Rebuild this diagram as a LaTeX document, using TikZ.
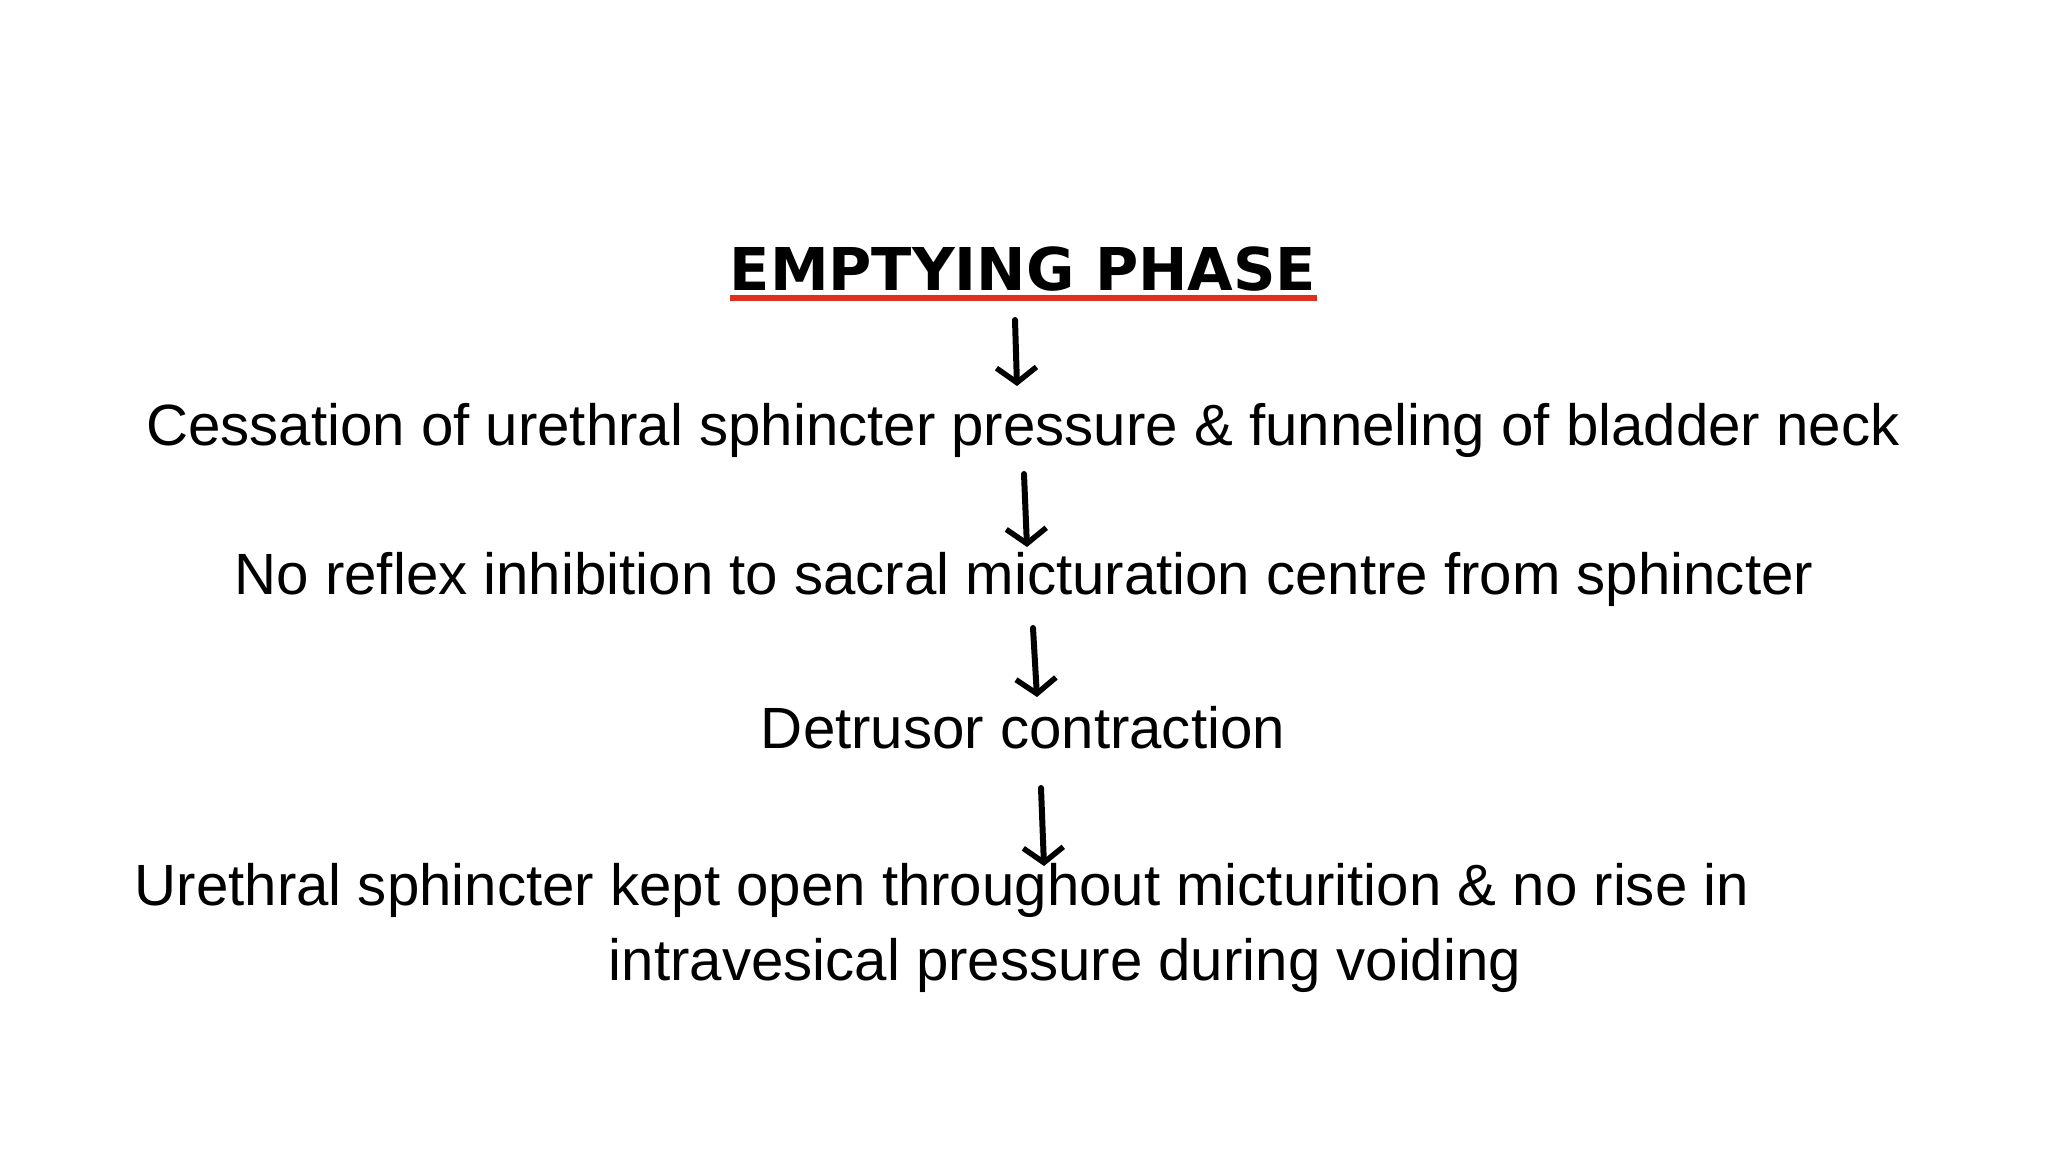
\documentclass[tikz,border=0pt]{standalone}
\usepackage{fontspec}
\setmainfont{Liberation Sans}
\newfontfamily\titlefont{DejaVu Sans}
\usetikzlibrary{arrows.meta}
\definecolor{ulred}{RGB}{222,48,28}
\tikzset{
  txt/.style={anchor=base, inner sep=0pt, font=\fontsize{58.2}{70}\selectfont},
  ttl/.style={anchor=base, inner sep=0pt, font=\titlefont\bfseries\fontsize{59}{70}\selectfont},
  harrow/.style={line width=6pt, line cap=round, -{Straight Barb[length=15pt,width=40pt,line width=5.5pt]}},
}
\begin{document}
\begin{tikzpicture}[x=1pt,y=-1pt]
\useasboundingbox[fill=white] (0,0) rectangle (2048,1152);
\node[ttl] (title) at (1023,290) {EMPTYING PHASE};
\fill[ulred] (title.south west |- 0,295) rectangle (title.south east |- 0,301);
\node[txt] (l1) at (1023,445) {Cessation of urethral sphincter pressure \& funneling of bladder neck};
\node[txt] (l2) at (1024,594) {No reflex inhibition to sacral micturation centre from sphincter};
\node[txt] (l3) at (1023,748) {Detrusor contraction};
\node[txt] (l4) at (942,905) {Urethral sphincter kept open throughout micturition \& no rise in};
\node[txt] (l5) at (1065,980) {intravesical pressure during voiding};
\coordinate (a1s) at (1015,320); \coordinate (a1e) at (1017,386);
\coordinate (a2s) at (1024,474); \coordinate (a2e) at (1027,547);
\coordinate (a3s) at (1033,628); \coordinate (a3e) at (1037,697);
\coordinate (a4s) at (1041,788); \coordinate (a4e) at (1044,866);
\draw[harrow] (a1s) -- (a1e);
\draw[harrow] (a2s) -- (a2e);
\draw[harrow] (a3s) -- (a3e);
\draw[harrow] (a4s) -- (a4e);
\end{tikzpicture}
\end{document}
